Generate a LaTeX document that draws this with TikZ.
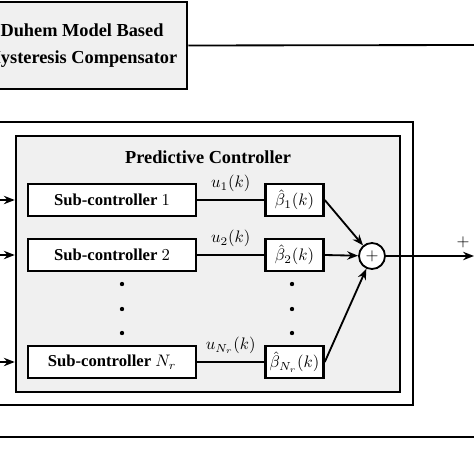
\documentclass[tikz,border=0pt]{standalone}
\usepackage{fontspec}
\setmainfont{Liberation Serif}
\usetikzlibrary{arrows.meta, positioning}
\tikzset{
>={Stealth[length=6.5pt,width=5pt]}, % filled arrow heads
line/.style={line width=1.1pt}, % connectors
box/.style={draw, line width=1.5pt, fill=white, inner sep=1pt}, % every block
subbox/.style={box, minimum width=100.8pt, minimum height=19.2pt, font=\bfseries},
betabox/.style={box, minimum width=34.8pt, minimum height=19.2pt},
sumnode/.style={draw, line width=1.1pt, circle, fill=white, minimum size=15.6pt, inner sep=0pt},
vdot/.style={circle, fill=black, inner sep=0pt, minimum size=2.6pt},
}
\newcommand{\lbl}[1]{\normalsize{#1}}

\begin{document}
\begin{tikzpicture}[x=0.6pt, y=-0.6pt]
  \useasboundingbox (0,0) rectangle (474,474);
  \clip (0,0) rectangle (474,474);

  % compensator on top
  \node[box, fill=gray!12, minimum width=126pt, minimum height=52.2pt, align=center,
        font=\bfseries\fontsize{11}{16}\selectfont] (duhem) at (82,45.5)
        {Duhem Model Based\\Hysteresis Compensator};
  \coordinate (duhemout) at (474,45);
  \draw[line] (duhem.east) -- (duhemout);

  % outer and inner blocks
  \node[box, minimum width=253.8pt, minimum height=169.8pt] (outer) at (201.5,263.5) {};
  \node[box, fill=gray!12, minimum width=230.4pt, minimum height=153.6pt] (pc) at (208,264) {};
  \node[font=\bfseries\fontsize{11}{13}\selectfont] (title) at (208,157) {Predictive Controller};

  % sub-controllers and weights
  \node[subbox] (sc1) at (112,200) {Sub-controller $1$};
  \node[subbox] (sc2) at (112,255) {Sub-controller $2$};
  \node[subbox] (scN) at (112,362) {Sub-controller $N_r$};
  \node[betabox, right=40.2pt of sc1] (b1) {$\hat{\beta}_1(k)$};
  \node[betabox, right=40.2pt of sc2] (b2) {$\hat{\beta}_2(k)$};
  \node[betabox, right=40.2pt of scN] (bN) {$\hat{\beta}_{N_r}(k)$};
  \node[sumnode] (sum) at (372,256) {$+$};

  \foreach \y in {284,309,333} {
    \node[vdot] at (122,\y) {};
    \node[vdot] at (292,\y) {};
  }

  % inputs from the left
  \coordinate (in1) at (0,200);
  \coordinate (in2) at (0,255);
  \coordinate (inN) at (0,362);
  \draw[line, ->] (in1) -- (in1 -| pc.west);
  \draw[line, ->] (in2) -- (in2 -| pc.west);
  \draw[line, ->] (inN) -- (inN -| pc.west);

  \draw[line] (sc1) -- node[above=1pt]{\lbl{$u_1(k)$}} (b1);
  \draw[line] (sc2) -- node[above=1pt]{\lbl{$u_2(k)$}} (b2);
  \draw[line] (scN) -- node[above=1pt]{\lbl{$u_{N_r}(k)$}} (bN);

  \draw[line, ->] (b1.east) -- (sum);
  \draw[line, ->] (b2.east) -- (sum);
  \draw[line, ->] (bN.east) -- (sum);

  \coordinate (out) at (474,256);
  \draw[line, ->] (sum) -- (out);
  \node (plus) at (463,242) {$+$};

  % feedback line at the bottom
  \coordinate (fbl) at (0,437);
  \coordinate (fbr) at (474,437);
  \draw[line] (fbl) -- (fbr);
\end{tikzpicture}
\end{document}
